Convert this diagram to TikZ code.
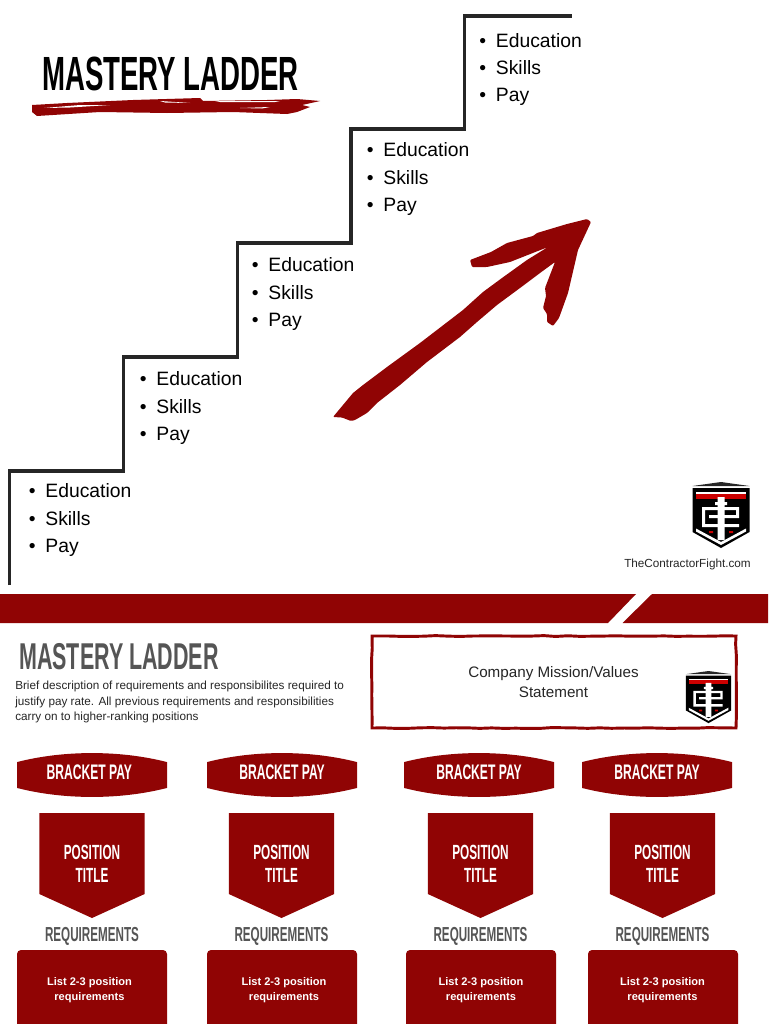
\documentclass[tikz,border=0pt]{standalone}
\usepackage{fontspec}
\setmainfont{Liberation Sans}
\newfontfamily\headfont[FakeStretch=0.575]{Liberation Sans}
\usetikzlibrary{calc,decorations.pathmorphing}
\definecolor{LadderRed}{HTML}{900404}
\definecolor{LadderGray}{HTML}{555555}
\definecolor{LadderInk}{HTML}{262626}
\newcommand{\stepitems}{\textbullet\hspace{7.4pt}Education\\\textbullet\hspace{7.4pt}Skills\\\textbullet\hspace{7.4pt}Pay}
\tikzset{
	stepitems/.style={anchor=west,align=left,inner sep=0pt,font=\fontsize{14.5}{20.5}\selectfont,text=black},
	bracketbox/.style={minimum width=112.5pt,minimum height=33pt,inner sep=0pt,text=white,text depth=4pt,font=\headfont\bfseries\fontsize{15.8}{18}\selectfont,
		path picture={\fill[LadderRed] ($(path picture bounding box.north west)+(0,-6.8pt)$) .. controls +(35pt,9pt) and +(-35pt,9pt) .. ($(path picture bounding box.north east)+(0,-6.8pt)$) -- ($(path picture bounding box.south east)+(0,6.8pt)$) .. controls +(-35pt,-9pt) and +(35pt,-9pt) .. ($(path picture bounding box.south west)+(0,6.8pt)$) -- cycle;}},
	positionbox/.style={minimum width=79pt,minimum height=78.75pt,inner sep=0pt,align=center,text=white,text depth=3pt,font=\headfont\bfseries\fontsize{15.4}{17.2}\selectfont,
		path picture={\fill[LadderRed] (path picture bounding box.north west) -- (path picture bounding box.north east) -- ($(path picture bounding box.south east)+(0,18pt)$) -- (path picture bounding box.south) -- ($(path picture bounding box.south west)+(0,18pt)$) -- cycle;}},
	reqlabel/.style={inner sep=0pt,text=LadderGray,font=\headfont\bfseries\fontsize{15.2}{17}\selectfont},
	reqbox/.style={minimum width=112.5pt,minimum height=60pt,inner sep=0pt,fill=LadderRed,rounded corners=3pt},
	reqtext/.style={inner sep=0pt,align=center,text=white,font=\bfseries\fontsize{8.3}{11.4}\selectfont},
	pics/shieldlogo/.style={code={
		\fill[LadderInk] (-28.5,4) -- (0,0) -- (28.5,4) -- cycle;
		\fill[black] (-28.5,6) -- (28.5,6) -- (28.5,50) -- (0,66) -- (-28.5,50) -- cycle;
		\fill[white] (-25,9.5) rectangle (25,11.5);
		\fill[red!80!black] (-25,11.5) rectangle (25,16.5);
		\fill[white] (-25,46.5) -- (0,60) -- (25,46.5) -- (25,49.5) -- (0,63) -- (-25,49.5) -- cycle;
		\fill[white] (-19,25) rectangle (18,28) (-19,25) rectangle (-16,45) (-19,42) rectangle (18,45) (-12,33) rectangle (18,36) (15,25) rectangle (18,36);
		\fill[white] (-3.5,15) rectangle (3.5,58) (-6,20) rectangle (6,23);
		\fill[red!80!black] (-12,49) rectangle (-8,51) (8,49) rectangle (12,51);
	}}
}
\begin{document}
\begin{tikzpicture}[x=0.75pt,y=-0.75pt,node distance=2cm]
	\clip (0,0) rectangle (768,1024);
	\fill[white] (0,0) rectangle (768,1024);

	\draw[LadderInk,line width=2.3pt] (9.5,585) -- (9.5,471) -- (123.5,471) -- (123.5,357) -- (237.5,357) -- (237.5,243) -- (351,243) -- (351,129) -- (464.5,129) -- (464.5,16) -- (572,16);
	\node(ItemsA)	[stepitems] at (28.5,520)	{\stepitems};
	\node(ItemsB)	[stepitems] at (139.5,408)	{\stepitems};
	\node(ItemsC)	[stepitems] at (251.5,294)	{\stepitems};
	\node(ItemsD)	[stepitems] at (366.5,179)	{\stepitems};
	\node(ItemsE)	[stepitems] at (479,69.5)	{\stepitems};

	\node(MainTitle)	[anchor=west,inner sep=0pt,font=\headfont\bfseries\fontsize{36}{38}\selectfont,text=black] at (42,74) {MASTERY LADDER};
	\fill[LadderRed] (32,105) -- (67,103) -- (133,100) -- (200,98) -- (203,101) -- (267,100) -- (297,99) -- (320,101) -- (302,105) -- (310,107) -- (297,112) -- (287,114) -- (233,112) -- (167,113) -- (100,112) -- (37,116) -- (32,112) -- cycle;
	\fill[white] (44,108) -- (80,105) -- (110,105) -- (70,107.5) -- cycle (160,101) -- (190,103) -- (165,102.5) -- cycle (240,108) -- (270,107) -- (262,108.5) -- cycle (215,101) -- (280,101) -- (275,102) -- (220,102) -- cycle;

	\fill[LadderRed,rounded corners=0.8pt] (333,417) -- (342,417.5) -- (351,421) -- (355,420) -- (367,413) -- (377,403) -- (400,385) -- (427,362) -- (460,337) -- (477,322) -- (497,305) -- (520,288) -- (540,273) -- (555,262) -- (545,288) -- (546,296) -- (543,308) -- (547,314) -- (547,322) -- (553,326) -- (559,318) -- (568,293) -- (578,250) -- (591,222) -- (587,219) -- (567,224) -- (537,233) -- (533,236) -- (507,243) -- (491,252) -- (470,260) -- (472,267) -- (487,267) -- (510,262) -- (548,247) -- (527,260) -- (502,278) -- (483,292) -- (463,310) -- (420,343) -- (387,367) -- (363,385) -- (353,393) -- cycle;

	\pic(LogoTop) at (721,482) {shieldlogo};
	\node(SiteName)	[inner sep=0pt,font=\fontsize{8.8}{10}\selectfont,text=black!85] at (687.5,564) {TheContractorFight.com};

	\fill[LadderRed] (0,594) -- (636,594) -- (608,623) -- (0,623) -- cycle;
	\fill[LadderRed] (652,594) -- (768,594) -- (768,623) -- (622.5,623) -- cycle;

	\node(LowerTitle)	[anchor=west,inner sep=0pt,text=LadderGray,font=\headfont\bfseries\fontsize{28}{31}\selectfont] at (19,657) {MASTERY LADDER};
	\node(Brief)		[anchor=north west,inner sep=0pt,align=left,font=\fontsize{8.8}{11.7}\selectfont,text=black!85] at (15,681) {Brief description of requirements and responsibilites required to\\justify pay rate. All previous requirements and responsibilities\\carry on to higher-ranking positions};
	\node(Mission)		[draw=LadderRed,line width=2.2pt,minimum width=273pt,minimum height=69pt,inner sep=0pt,decorate,decoration={random steps,segment length=9pt,amplitude=0.35pt}] at (554,682) {};
	\node(MissionText)	[align=center,inner sep=0pt,font=\fontsize{11.4}{15}\selectfont,text=black!85] at (553.5,682) {Company Mission/Values\\Statement};
	\pic(LogoBox) [scale=0.79] at (708.5,671) {shieldlogo};

	\node(BracketA)	[bracketbox] at (92,775)	{BRACKET PAY\hspace*{4pt}};
	\node(BracketB)	[bracketbox] at (282,775)	{BRACKET PAY};
	\node(BracketC)	[bracketbox] at (479,775)	{BRACKET PAY};
	\node(BracketD)	[bracketbox] at (657,775)	{BRACKET PAY};

	\node(PositionA)	[positionbox] at (92,865.5)		{POSITION\\TITLE};
	\node(PositionB)	[positionbox] at (281.5,865.5)	{POSITION\\TITLE};
	\node(PositionC)	[positionbox] at (480.5,865.5)	{POSITION\\TITLE};
	\node(PositionD)	[positionbox] at (662.5,865.5)	{POSITION\\TITLE};

	\node(ReqLabelA)	[reqlabel,below of=PositionA,node distance=53.5pt]	{REQUIREMENTS};
	\node(ReqLabelB)	[reqlabel,below of=PositionB,node distance=53.5pt]	{REQUIREMENTS};
	\node(ReqLabelC)	[reqlabel,below of=PositionC,node distance=53.5pt]	{REQUIREMENTS};
	\node(ReqLabelD)	[reqlabel,below of=PositionD,node distance=53.5pt]	{REQUIREMENTS};

	\node(ReqBoxA)	[reqbox] at (92,990)	{};
	\node(ReqBoxB)	[reqbox] at (282,990)	{};
	\node(ReqBoxC)	[reqbox] at (481,990)	{};
	\node(ReqBoxD)	[reqbox] at (663,990)	{};

	\node(ReqTextA)	[reqtext] at (89.5,990)	{List 2-3 position\\requirements};
	\node(ReqTextB)	[reqtext] at (284,990)	{List 2-3 position\\requirements};
	\node(ReqTextC)	[reqtext] at (481,990)	{List 2-3 position\\requirements};
	\node(ReqTextD)	[reqtext] at (662.5,990)	{List 2-3 position\\requirements};
\end{tikzpicture}
\end{document}
